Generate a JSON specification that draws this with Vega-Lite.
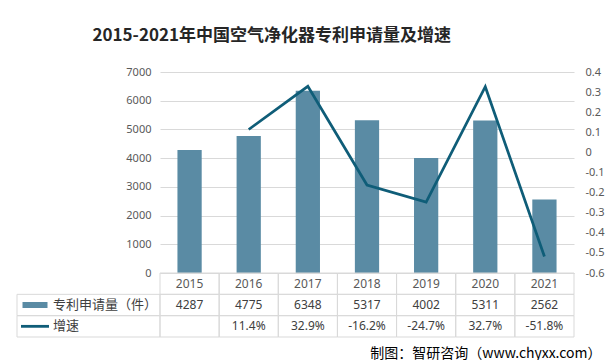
{
  "$schema": "https://vega.github.io/schema/vega-lite/v6.json",
  "background": "white",
  "padding": {"left": 16, "top": 27, "right": 0, "bottom": 0},
  "title": {
    "text": "2015-2021年中国空气净化器专利申请量及增速",
    "font": "Noto Sans CJK SC",
    "fontSize": 17,
    "fontWeight": "bold",
    "color": "#262626",
    "anchor": "start",
    "dx": 76,
    "offset": 21
  },
  "datasets": {
    "main": [
      {"year": "2015", "count": 4287, "growth": null},
      {"year": "2016", "count": 4775, "growth": 0.114},
      {"year": "2017", "count": 6348, "growth": 0.329},
      {"year": "2018", "count": 5317, "growth": -0.162},
      {"year": "2019", "count": 4002, "growth": -0.247},
      {"year": "2020", "count": 5311, "growth": 0.327},
      {"year": "2021", "count": 2562, "growth": -0.518}
    ],
    "labels": [
      {"row": "count", "label": "专利申请量（件）", "kind": "bar"},
      {"row": "growth", "label": "增速", "kind": "line"}
    ]
  },
  "columns": 2,
  "spacing": 0,
  "bounds": "flush",
  "concat": [
    {
      "width": 143,
      "height": 201,
      "data": {"values": [{}]},
      "mark": {"type": "text", "text": ""},
      "encoding": {}
    },
    {
      "width": 414,
      "height": 201,
      "data": {"name": "main"},
      "encoding": {
        "x": {
          "field": "year",
          "type": "nominal",
          "scale": {"paddingInner": 0, "paddingOuter": 0},
          "axis": {"labels": false, "ticks": false, "title": null, "domain": true, "domainColor": "#d9d9d9", "grid": false}
        }
      },
      "layer": [
        {
          "mark": {"type": "bar", "color": "#5a8ba4", "width": {"band": 0.41}},
          "encoding": {
            "y": {
              "field": "count",
              "type": "quantitative",
              "scale": {"domain": [0, 7000], "nice": false},
              "axis": {
                "orient": "left",
                "values": [0, 1000, 2000, 3000, 4000, 5000, 6000, 7000],
                "title": null,
                "domain": false,
                "ticks": false,
                "grid": true,
                "gridColor": "#d9d9d9",
                "labelColor": "#595959",
                "labelFont": "Noto Sans",
                "labelFontSize": 11,
                "labelPadding": 9,
                "format": "d"
              }
            }
          }
        },
        {
          "transform": [{"filter": "datum.growth != null"}],
          "mark": {"type": "line", "color": "#0f5d78", "strokeWidth": 2.75},
          "encoding": {
            "y": {
              "field": "growth",
              "type": "quantitative",
              "scale": {"domain": [-0.6, 0.4], "nice": false, "zero": false},
              "axis": {
                "orient": "right",
                "values": [-0.6, -0.5, -0.4, -0.3, -0.2, -0.1, 0, 0.1, 0.2, 0.3, 0.4],
                "format": ".1~f",
                "title": null,
                "domain": false,
                "ticks": false,
                "grid": false,
                "labelColor": "#595959",
                "labelFont": "Noto Sans",
                "labelFontSize": 11,
                "labelPadding": 11
              }
            }
          }
        }
      ],
      "resolve": {"scale": {"y": "independent"}}
    },
    {
      "width": 143,
      "height": 64,
      "data": {"name": "labels"},
      "encoding": {
        "y": {
          "field": "row",
          "type": "nominal",
          "scale": {"domain": ["year", "count", "growth"], "paddingInner": 0, "paddingOuter": 0},
          "axis": null
        }
      },
      "layer": [
        {
          "mark": {"type": "rect", "fill": "transparent", "stroke": "#d9d9d9", "strokeWidth": 1}
        },
        {
          "mark": {"type": "text", "align": "left", "font": "Noto Sans CJK SC", "fontSize": 13, "color": "#404040"},
          "encoding": {"x": {"value": 36}, "text": {"field": "label"}}
        },
        {
          "transform": [{"filter": "datum.kind == 'bar'"}],
          "mark": {"type": "point", "filled": true, "shape": "M-1,-0.24H1V0.24H-1Z", "size": 625, "color": "#5a8ba4", "opacity": 1},
          "encoding": {"x": {"value": 18}}
        },
        {
          "transform": [{"filter": "datum.kind == 'line'"}],
          "mark": {"type": "point", "filled": true, "shape": "M-1,-0.1H1V0.1H-1Z", "size": 784, "color": "#0f5d78", "opacity": 1},
          "encoding": {"x": {"value": 18}}
        }
      ]
    },
    {
      "width": 414,
      "height": 64,
      "data": {"name": "main"},
      "encoding": {
        "x": {
          "field": "year",
          "type": "nominal",
          "scale": {"paddingInner": 0, "paddingOuter": 0},
          "axis": {
            "labels": false,
            "ticks": false,
            "domain": false,
            "grid": false,
            "title": "制图：智研咨询（www.chyxx.com）",
            "titleFont": "Noto Sans CJK SC",
            "titleFontSize": 14,
            "titleFontWeight": "normal",
            "titleColor": "#000000",
            "titleAlign": "right",
            "titleAnchor": "end",
            "titleBaseline": "middle",
            "titleX": 441,
            "titleY": 16
          }
        }
      },
      "layer": [
        {
          "transform": [{"fold": ["year", "count", "growth"], "as": ["row", "v"]}],
          "mark": {"type": "rect", "fill": "transparent", "stroke": "#d9d9d9", "strokeWidth": 1},
          "encoding": {
            "y": {
              "field": "row",
              "type": "nominal",
              "scale": {"domain": ["year", "count", "growth"], "paddingInner": 0, "paddingOuter": 0},
              "axis": null
            }
          }
        },
        {
          "mark": {"type": "text", "font": "Noto Sans", "fontSize": 12, "color": "#595959"},
          "encoding": {
            "y": {"datum": "year", "type": "nominal"},
            "text": {"field": "year", "type": "nominal"}
          }
        },
        {
          "mark": {"type": "text", "font": "Noto Sans", "fontSize": 12, "color": "#404040"},
          "encoding": {
            "y": {"datum": "count", "type": "nominal"},
            "text": {"field": "count", "type": "quantitative", "format": "d"}
          }
        },
        {
          "transform": [{"filter": "datum.growth != null"}],
          "mark": {"type": "text", "font": "Noto Sans", "fontSize": 12, "color": "#404040"},
          "encoding": {
            "y": {"datum": "growth", "type": "nominal"},
            "text": {"field": "growth", "type": "quantitative", "format": ".1%"}
          }
        }
      ]
    }
  ],
  "config": {
    "view": {"stroke": null},
    "locale": {
      "number": {"decimal": ".", "thousands": ",", "grouping": [3], "currency": ["$", ""], "minus": "-"}
    }
  }
}
